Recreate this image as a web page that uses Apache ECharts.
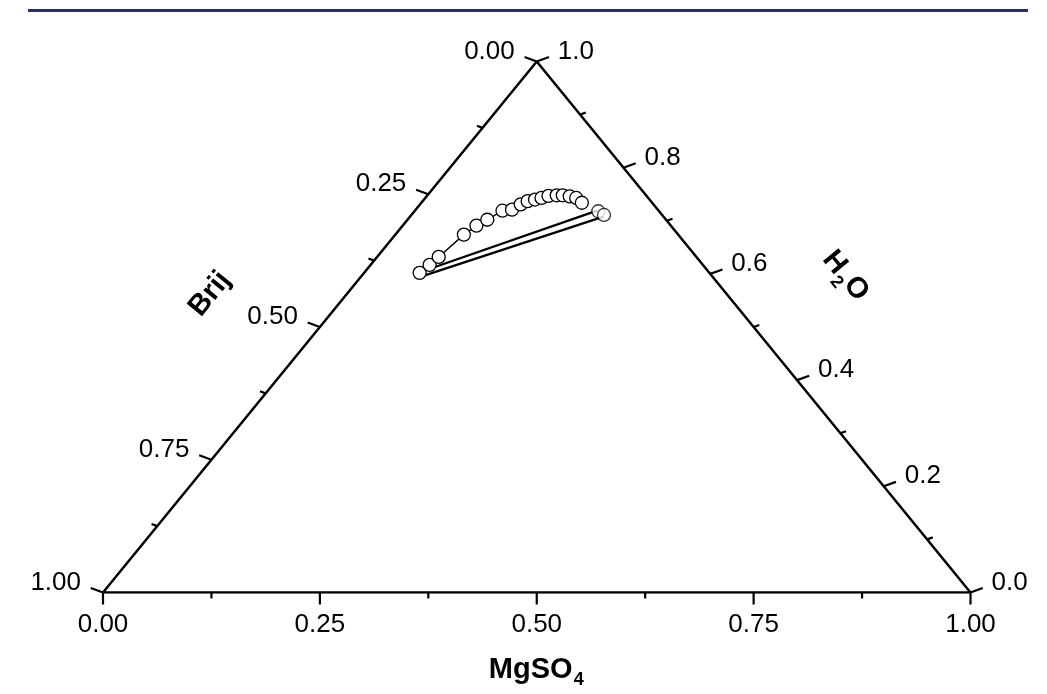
<!DOCTYPE html>
<html>
<head>
<meta charset="utf-8">
<title>Brij / MgSO4 / H2O</title>
<script src="https://cdn.jsdelivr.net/npm/echarts@6/dist/echarts.min.js"></script>
<style>
  html, body { margin: 0; padding: 0; background: #fff; }
  #chart { width: 1047px; height: 694px; }
</style>
</head>
<body>
<div id="chart"></div>
<script>
// binodal curve (mass fractions)
var mgso4 = [0.064, 0.068, 0.071, 0.079, 0.085, 0.092, 0.101, 0.111, 0.116, 0.121, 0.128, 0.134, 0.140, 0.149, 0.156, 0.165, 0.174, 0.185];
var brij  = [0.334, 0.315, 0.297, 0.247, 0.224, 0.206, 0.180, 0.168, 0.153, 0.142, 0.132, 0.123, 0.113, 0.103, 0.096, 0.089, 0.083, 0.081];
var water = [0.602, 0.617, 0.632, 0.674, 0.691, 0.702, 0.719, 0.721, 0.731, 0.737, 0.740, 0.743, 0.747, 0.748, 0.748, 0.746, 0.743, 0.734];

// salt-rich end points
var endMgso4 = [0.212, 0.222];
var endBrij  = [0.070, 0.067];
var endWater = [0.718, 0.711];

// tie lines: [MgSO4, Brij, H2O] at both ends
var tieLine1 = [[0.069, 0.336, 0.595], [0.223, 0.069, 0.708]];
var tieLine2 = [[0.075, 0.313, 0.612], [0.210, 0.071, 0.719]];

// axis ticks
var bottomTicks = [0, 0.25, 0.5, 0.75, 1];
var bottomLabels = ["0.00", "0.25", "0.50", "0.75", "1.00"];
var leftTicks = [0, 0.25, 0.5, 0.75, 1];
var leftLabels = ["0.00", "0.25", "0.50", "0.75", "1.00"];
var rightTicks = [0, 0.2, 0.4, 0.6, 0.8, 1];
var rightLabels = ["0.0", "0.2", "0.4", "0.6", "0.8", "1.0"];

var FONT = '"Liberation Sans", Arial, Helvetica, sans-serif';
var TITLE_FONT = "bold 29px " + FONT;
var SUB_FONT = "bold 18px " + FONT;

// ternary -> cartesian (MgSO4 bottom right, H2O top, Brij bottom left)
function toXY (m, w) {
  return [m + w / 2, w];
}

var curveData = mgso4.map(function (m, i) { return toXY(m, water[i]); });
var endData = endMgso4.map(function (m, i) { return toXY(m, endWater[i]); });
function tieData (t) {
  return t.map(function (p) { return toXY(p[0], p[2]); });
}

var measureCtx = document.createElement("canvas").getContext("2d");
function textWidth (text, font) {
  measureCtx.font = font;
  return measureCtx.measureText(text).width;
}

// title with subscripts, centred on (x, y)
function titleGroup (parts, x, y, rotation) {
  var total = 0;
  parts.forEach(function (p) {
    p.w = textWidth(p[0], p[1] ? SUB_FONT : TITLE_FONT) + (p[1] ? 2 : 0);
    total += p.w;
  });
  var cx = -total / 2;
  var kids = parts.map(function (p) {
    var el = {
      type: "text",
      x: cx + (p[1] ? 1 : 0),
      y: p[1] ? 11 : 0,
      style: { text: p[0], font: p[1] ? SUB_FONT : TITLE_FONT, fill: "#000", align: "left", verticalAlign: "middle" }
    };
    cx += p.w;
    return el;
  });
  return { type: "group", x: x, y: y, rotation: rotation || 0, children: kids };
}

function renderFrame (params, api) {
  var children = [];
  var black = "#000";
  function tick (p, dir, len) {
    children.push({
      type: "line",
      shape: { x1: p[0], y1: p[1], x2: p[0] + dir[0] * len, y2: p[1] + dir[1] * len },
      style: { stroke: black, lineWidth: 2.2 }
    });
  }
  function label (text, x, y, align) {
    children.push({
      type: "text", x: x, y: y,
      style: { text: text, fill: black, font: "26px " + FONT, align: align, verticalAlign: "middle" }
    });
  }
  var down = [0, 1];
  var leftDir = [-0.94, -0.34];
  var rightDir = [0.94, -0.34];
  var i, p, v;

  // bottom axis: MgSO4
  for (i = 0; i < bottomTicks.length; i++) {
    p = api.coord(toXY(bottomTicks[i], 0));
    tick(p, down, 12);
    label(bottomLabels[i], p[0], p[1] + 32, "center");
    if (i < bottomTicks.length - 1) {
      v = (bottomTicks[i] + bottomTicks[i + 1]) / 2;
      tick(api.coord(toXY(v, 0)), down, 6);
    }
  }
  // left axis: Brij (0 at top)
  for (i = 0; i < leftTicks.length; i++) {
    p = api.coord(toXY(0, 1 - leftTicks[i]));
    tick(p, leftDir, 13);
    label(leftLabels[i], p[0] - 22, p[1] - 10, "right");
    if (i < leftTicks.length - 1) {
      v = (leftTicks[i] + leftTicks[i + 1]) / 2;
      tick(api.coord(toXY(0, 1 - v)), leftDir, 6);
    }
  }
  // right axis: H2O
  for (i = 0; i < rightTicks.length; i++) {
    p = api.coord(toXY(1 - rightTicks[i], rightTicks[i]));
    tick(p, rightDir, 13);
    label(rightLabels[i], p[0] + 21, p[1] - 10, "left");
    if (i < rightTicks.length - 1) {
      v = (rightTicks[i] + rightTicks[i + 1]) / 2;
      tick(api.coord(toXY(1 - v, v)), rightDir, 6);
    }
  }

  var ang = Math.atan2(531, 434);

  // axis titles
  var pb = api.coord(toXY(0.5, 0));
  children.push(titleGroup([["MgSO", false], ["4", true]], pb[0], pb[1] + 77));
  var pl = api.coord(toXY(0, 0.5));
  children.push(titleGroup([["Brij", false]], pl[0] - 110, pl[1] - 33, ang));
  var pr = api.coord(toXY(0.5, 0.5));
  children.push(titleGroup([["H", false], ["2", true], ["O", false]], pr[0] + 92, pr[1] - 51, -ang));

  return { type: "group", children: children };
}

var chart = echarts.init(document.getElementById("chart"));

var symbolStyle = { color: "#fff", borderColor: "#000", borderWidth: 1.3 };

chart.setOption({
  animation: false,
  backgroundColor: "#fff",
  graphic: [{
    type: "rect", left: 28, top: 9,
    shape: { width: 1000, height: 3 },
    style: { fill: "#2c2f5c" }
  }],
  grid: { left: 103, right: 76.5, top: 61.5, bottom: 101.5 },
  xAxis: { type: "value", min: 0, max: 1, show: false },
  yAxis: { type: "value", min: 0, max: 1, show: false },
  series: [
    {
      // triangle frame
      type: "line",
      data: [toXY(0, 0), toXY(1, 0), toXY(0, 1), toXY(0, 0)],
      symbol: "none",
      lineStyle: { color: "#000", width: 2.5 },
      z: 1
    },
    {
      type: "custom",
      data: [[0, 0]],
      renderItem: renderFrame,
      silent: true,
      z: 1
    },
    {
      type: "line",
      data: tieData(tieLine1),
      symbol: "none",
      lineStyle: { color: "#000", width: 2.3 },
      z: 2
    },
    {
      type: "line",
      data: tieData(tieLine2),
      symbol: "none",
      lineStyle: { color: "#000", width: 2.3 },
      z: 2
    },
    {
      // binodal curve
      type: "line",
      data: curveData,
      symbol: "circle", symbolSize: 13,
      itemStyle: symbolStyle,
      lineStyle: { color: "#000", width: 1.4 },
      z: 3
    },
    {
      type: "scatter",
      data: endData,
      symbol: "circle", symbolSize: 13,
      itemStyle: symbolStyle,
      z: 3
    }
  ]
});
</script>
</body>
</html>
